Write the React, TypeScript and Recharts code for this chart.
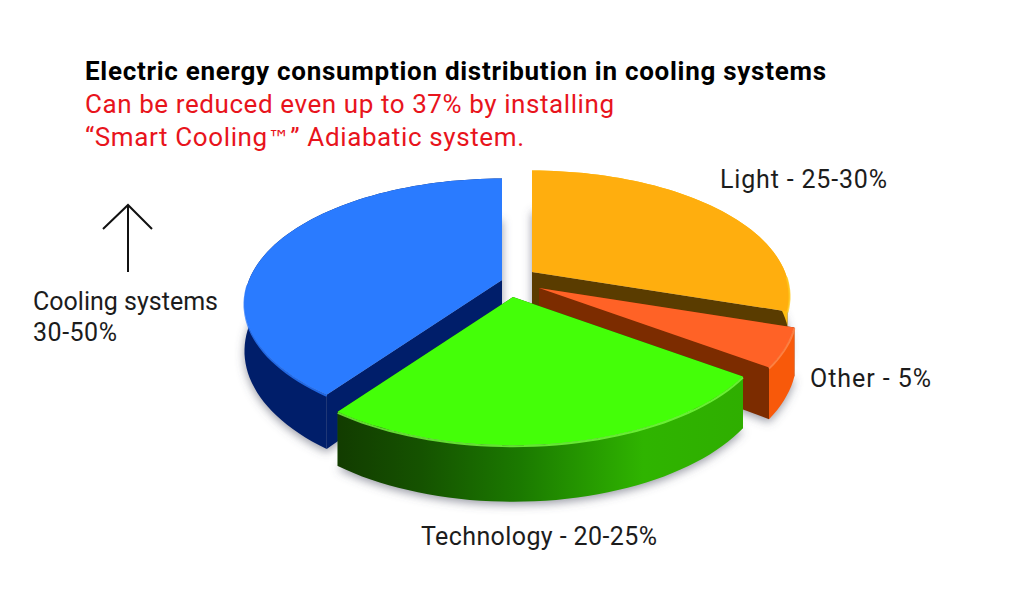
import { PieChart, Pie } from 'recharts';

const sliceNames = ['Cooling systems', 'Light', 'Other', 'Technology'];
const sliceValues = [40, 30, 5, 25];

const topColors = ['#2a7bff', '#ffae0e', '#ff6226', '#44ff08'];
const rimColors = ['#2a7bff', '#ffc81e', '#ff8a50', '#78ff40'];
const faceColors = ['#001e6a', '#5a3c00', '#7c2c00', '#1a5a00'];
const wallFills = ['#001e6a', '#ffbe10', '#f8590a', 'url(#techWall)'];
// how far each slice is pulled out of the pie, in screen px
const offsetX = [-13, 17, 24, -2];
const offsetY = [-4, -12, 4, 13];

const chartData = sliceNames.map((name, i) => ({ name, value: sliceValues[i] }));

const WIDTH = 1024;
const HEIGHT = 606;
const CX = 515;
const CY = 284;
const RADIUS = 253;
const DEPTH = 46;
// fake perspective: far side of the disc is squashed, near side is stretched
const TILT = 0.476;
const PERSP = 0.00074;

const RAD = Math.PI / 180;

function project(r: number, deg: number, ox: number, oy: number, z: number) {
  const x = r * Math.cos(deg * RAD);
  const y = -r * Math.sin(deg * RAD);
  const w = 1 - PERSP * y;
  return [ox + x / w, oy + (TILT * y) / w + z / w];
}

function toPath(points: number[][]) {
  return 'M' + points.map(p => p[0].toFixed(1) + ',' + p[1].toFixed(1)).join('L') + 'Z';
}

function arcPoints(r: number, a1: number, a2: number, ox: number, oy: number, z: number) {
  const steps = Math.max(2, Math.ceil(Math.abs(a1 - a2) / 2));
  const pts = [];
  for (let i = 0; i <= steps; i++) {
    pts.push(project(r, a1 + ((a2 - a1) * i) / steps, ox, oy, z));
  }
  return pts;
}

// one exploded slice: shadow, walls, then the top face
function Slice3D(props: any) {
  const { cx, cy, outerRadius, startAngle, endAngle, index } = props;
  const ox = cx + offsetX[index];
  const oy = cy + offsetY[index];
  const top = arcPoints(outerRadius, startAngle, endAngle, ox, oy, 0);
  const bottom = arcPoints(outerRadius, startAngle, endAngle, ox, oy, DEPTH);
  const apex = project(0, 0, ox, oy, 0);
  const apexLow = project(0, 0, ox, oy, DEPTH);
  const last = top.length - 1;

  const wall = [...top, ...[...bottom].reverse()];
  const endFace = [apex, top[last], bottom[last], apexLow];
  const startFace = [apex, top[0], bottom[0], apexLow];
  const shadow = [apexLow, ...bottom].map(p => [p[0], p[1] + 3]);

  const rim = top
    .filter(p => p[1] > oy)
    .map((p, i) => (i === 0 ? 'M' : 'L') + p[0].toFixed(1) + ',' + (p[1] + 1).toFixed(1))
    .join('');

  return (
    <g>
      <path d={toPath(shadow)} fill="#55596a" fillOpacity={0.6} filter="url(#softShadow)" />
      <path d={toPath(startFace)} fill={faceColors[index]} />
      <path d={toPath(endFace)} fill={faceColors[index]} />
      <path d={toPath(wall)} fill={wallFills[index]} />
      <path d={toPath([apex, ...top])} fill={topColors[index]} />
      <path d={rim} fill="none" stroke={rimColors[index]} strokeWidth={2} strokeOpacity={0.8} />
    </g>
  );
}

const labelStyle = { fontFamily: 'Roboto, sans-serif', fontSize: 25, fill: '#1c1c1c' };
const redStyle = { fontFamily: 'Roboto, sans-serif', fontSize: 26, fill: '#e8141c' };

export default function App() {
  return (
    <div style={{ position: 'absolute', left: 0, top: 0, width: WIDTH, height: HEIGHT, background: '#fff' }}>
      <PieChart width={WIDTH} height={HEIGHT} margin={{ top: 0, right: 0, bottom: 0, left: 0 }}>
        <defs>
          <linearGradient id="techWall" gradientUnits="userSpaceOnUse" x1="338" y1="0" x2="745" y2="0">
            <stop offset="0%" stopColor="#123c00" />
            <stop offset="20%" stopColor="#155200" />
            <stop offset="45%" stopColor="#1b7a00" />
            <stop offset="75%" stopColor="#2fb400" />
            <stop offset="100%" stopColor="#2fae00" />
          </linearGradient>
          <filter id="softShadow" x="-20%" y="-20%" width="140%" height="140%">
            <feGaussianBlur stdDeviation="5" />
          </filter>
        </defs>
        <Pie
          data={chartData}
          dataKey="value"
          nameKey="name"
          cx={CX}
          cy={CY}
          innerRadius={0}
          outerRadius={RADIUS}
          startAngle={234}
          endAngle={-126}
          stroke="none"
          shape={Slice3D}
          isAnimationActive={false}
        />
        <text x={85} y={80} textLength={741} style={{ fontFamily: 'Roboto, sans-serif', fontSize: 26, fontWeight: 700, fill: '#000' }}>
          Electric energy consumption distribution in cooling systems
        </text>
        <text x={85} y={113} textLength={529} style={redStyle}>
          Can be reduced even up to 37% by installing
        </text>
        <text x={85} y={146} textLength={439} style={redStyle}>
          “Smart Cooling<tspan style={{ fontFamily: '"DejaVu Sans", sans-serif', fontSize: 22 }}>™</tspan>” Adiabatic system.
        </text>
        <text x={720} y={188} textLength={167} style={labelStyle}>Light - 25-30%</text>
        <text x={810} y={387} textLength={121} style={labelStyle}>Other - 5%</text>
        <text x={421} y={545} textLength={236} style={labelStyle}>Technology - 20-25%</text>
        <text x={33} y={310} textLength={185} style={labelStyle}>Cooling systems</text>
        <text x={33} y={341} textLength={84} style={labelStyle}>30-50%</text>
        <path d="M128,272V205M103,229L128,205L152,229" fill="none" stroke="#111" strokeWidth={2} />
      </PieChart>
    </div>
  );
}
